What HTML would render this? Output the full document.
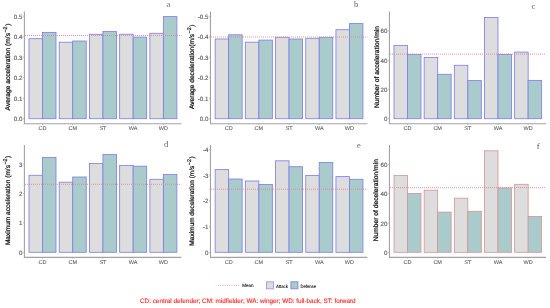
<!DOCTYPE html>
<html><head><meta charset="utf-8"><style>
html,body{margin:0;padding:0;background:#fff;}
body{width:550px;height:308px;overflow:hidden;}
svg{display:block;}
text{font-family:"Liberation Sans",Arial,sans-serif;text-rendering:geometricPrecision;}
.tk{font-size:6.2px;fill:#575757;stroke:#575757;stroke-width:0.12px;}
.tx{font-size:5.5px;fill:#555;stroke:#555;stroke-width:0.06px;}
.ti{font-size:6.85px;fill:#111;stroke:#111;stroke-width:0.24px;}
.sup{font-size:5.3px;}
.lt{font-family:"Liberation Serif","Times New Roman",serif;font-size:8.5px;fill:#5a5a5a;}
.lg{font-size:4.6px;fill:#1a1a1a;stroke:#1a1a1a;stroke-width:0.12px;}
.ls{font-family:"Liberation Sans",Arial,sans-serif;font-size:7.6px;fill:#666;}
.cap{font-size:6.4px;fill:#ff1f1f;stroke:#ff1f1f;stroke-width:0.12px;}
</style></head><body>
<svg width="550" height="308" viewBox="0 0 550 308">
<rect width="550" height="308" fill="#fff"/>
<rect x="29.00" y="38.70" width="13.50" height="80.00" fill="#dddddd" stroke="#8080ea" stroke-width="0.85"/>
<rect x="42.50" y="32.40" width="13.50" height="86.30" fill="#aacbcb" stroke="#8080ea" stroke-width="0.85"/>
<rect x="59.22" y="42.20" width="13.50" height="76.50" fill="#dddddd" stroke="#8080ea" stroke-width="0.85"/>
<rect x="72.72" y="41.00" width="13.50" height="77.70" fill="#aacbcb" stroke="#8080ea" stroke-width="0.85"/>
<rect x="89.44" y="34.30" width="13.50" height="84.40" fill="#dddddd" stroke="#8080ea" stroke-width="0.85"/>
<rect x="102.94" y="31.50" width="13.50" height="87.20" fill="#aacbcb" stroke="#8080ea" stroke-width="0.85"/>
<rect x="119.66" y="34.20" width="13.50" height="84.50" fill="#dddddd" stroke="#8080ea" stroke-width="0.85"/>
<rect x="133.16" y="37.10" width="13.50" height="81.60" fill="#aacbcb" stroke="#8080ea" stroke-width="0.85"/>
<rect x="149.88" y="33.30" width="13.50" height="85.40" fill="#dddddd" stroke="#8080ea" stroke-width="0.85"/>
<rect x="163.38" y="16.60" width="13.50" height="102.10" fill="#aacbcb" stroke="#8080ea" stroke-width="0.85"/>
<line x1="25.00" x2="181.30" y1="35.50" y2="35.50" stroke="#e08484" stroke-width="0.85" stroke-dasharray="1 1"/>
<path d="M24.40 11.40V123.80H181.30" fill="none" stroke="#a2a2a2" stroke-width="1.1"/>
<line x1="23.10" x2="24.40" y1="118.70" y2="118.70" stroke="#a2a2a2" stroke-width="0.7"/>
<text class="tk" x="22.40" y="121.20" text-anchor="end">0.0</text>
<line x1="23.10" x2="24.40" y1="98.20" y2="98.20" stroke="#a2a2a2" stroke-width="0.7"/>
<text class="tk" x="22.40" y="100.70" text-anchor="end">0.1</text>
<line x1="23.10" x2="24.40" y1="77.70" y2="77.70" stroke="#a2a2a2" stroke-width="0.7"/>
<text class="tk" x="22.40" y="80.20" text-anchor="end">0.2</text>
<line x1="23.10" x2="24.40" y1="57.20" y2="57.20" stroke="#a2a2a2" stroke-width="0.7"/>
<text class="tk" x="22.40" y="59.70" text-anchor="end">0.3</text>
<line x1="23.10" x2="24.40" y1="36.70" y2="36.70" stroke="#a2a2a2" stroke-width="0.7"/>
<text class="tk" x="22.40" y="39.20" text-anchor="end">0.4</text>
<line x1="23.10" x2="24.40" y1="16.20" y2="16.20" stroke="#a2a2a2" stroke-width="0.7"/>
<text class="tk" x="22.40" y="18.70" text-anchor="end">0.5</text>
<line x1="42.50" x2="42.50" y1="123.80" y2="125.10" stroke="#a2a2a2" stroke-width="0.7"/>
<text class="tx" x="42.50" y="130.10" text-anchor="middle">CD</text>
<line x1="72.72" x2="72.72" y1="123.80" y2="125.10" stroke="#a2a2a2" stroke-width="0.7"/>
<text class="tx" x="72.72" y="130.10" text-anchor="middle">CM</text>
<line x1="102.94" x2="102.94" y1="123.80" y2="125.10" stroke="#a2a2a2" stroke-width="0.7"/>
<text class="tx" x="102.94" y="130.10" text-anchor="middle">ST</text>
<line x1="133.16" x2="133.16" y1="123.80" y2="125.10" stroke="#a2a2a2" stroke-width="0.7"/>
<text class="tx" x="133.16" y="130.10" text-anchor="middle">WA</text>
<line x1="163.38" x2="163.38" y1="123.80" y2="125.10" stroke="#a2a2a2" stroke-width="0.7"/>
<text class="tx" x="163.38" y="130.10" text-anchor="middle">WD</text>
<text class="ti" style="font-size:6.68px" transform="translate(10.10 67.00) rotate(-90)" text-anchor="middle">Average acceleration (m/s<tspan class="sup" dx="0.5" dy="-3">−2</tspan><tspan dx="0.6" dy="3">)</tspan></text>
<text class="lt" x="166.60" y="7.30">a</text>
<rect x="215.15" y="39.00" width="13.50" height="79.70" fill="#dddddd" stroke="#8080ea" stroke-width="0.85"/>
<rect x="228.65" y="34.80" width="13.50" height="83.90" fill="#aacbcb" stroke="#8080ea" stroke-width="0.85"/>
<rect x="245.35" y="42.20" width="13.50" height="76.50" fill="#dddddd" stroke="#8080ea" stroke-width="0.85"/>
<rect x="258.85" y="40.10" width="13.50" height="78.60" fill="#aacbcb" stroke="#8080ea" stroke-width="0.85"/>
<rect x="275.55" y="37.30" width="13.50" height="81.40" fill="#dddddd" stroke="#8080ea" stroke-width="0.85"/>
<rect x="289.05" y="39.00" width="13.50" height="79.70" fill="#aacbcb" stroke="#8080ea" stroke-width="0.85"/>
<rect x="305.75" y="38.30" width="13.50" height="80.40" fill="#dddddd" stroke="#8080ea" stroke-width="0.85"/>
<rect x="319.25" y="37.30" width="13.50" height="81.40" fill="#aacbcb" stroke="#8080ea" stroke-width="0.85"/>
<rect x="335.95" y="29.70" width="13.50" height="89.00" fill="#dddddd" stroke="#8080ea" stroke-width="0.85"/>
<rect x="349.45" y="23.60" width="13.50" height="95.10" fill="#aacbcb" stroke="#8080ea" stroke-width="0.85"/>
<line x1="211.00" x2="367.40" y1="37.00" y2="37.00" stroke="#e08484" stroke-width="0.85" stroke-dasharray="1 1"/>
<path d="M210.45 11.40V123.80H367.40" fill="none" stroke="#a2a2a2" stroke-width="1.1"/>
<line x1="209.15" x2="210.45" y1="118.80" y2="118.80" stroke="#a2a2a2" stroke-width="0.7"/>
<text class="tk" x="208.45" y="121.30" text-anchor="end">0.0</text>
<line x1="209.15" x2="210.45" y1="98.30" y2="98.30" stroke="#a2a2a2" stroke-width="0.7"/>
<text class="tk" x="208.45" y="100.80" text-anchor="end">-0.1</text>
<line x1="209.15" x2="210.45" y1="77.80" y2="77.80" stroke="#a2a2a2" stroke-width="0.7"/>
<text class="tk" x="208.45" y="80.30" text-anchor="end">-0.2</text>
<line x1="209.15" x2="210.45" y1="57.30" y2="57.30" stroke="#a2a2a2" stroke-width="0.7"/>
<text class="tk" x="208.45" y="59.80" text-anchor="end">-0.3</text>
<line x1="209.15" x2="210.45" y1="36.90" y2="36.90" stroke="#a2a2a2" stroke-width="0.7"/>
<text class="tk" x="208.45" y="39.40" text-anchor="end">-0.4</text>
<line x1="209.15" x2="210.45" y1="16.40" y2="16.40" stroke="#a2a2a2" stroke-width="0.7"/>
<text class="tk" x="208.45" y="18.90" text-anchor="end">-0.5</text>
<line x1="228.65" x2="228.65" y1="123.80" y2="125.10" stroke="#a2a2a2" stroke-width="0.7"/>
<text class="tx" x="228.65" y="130.10" text-anchor="middle">CD</text>
<line x1="258.85" x2="258.85" y1="123.80" y2="125.10" stroke="#a2a2a2" stroke-width="0.7"/>
<text class="tx" x="258.85" y="130.10" text-anchor="middle">CM</text>
<line x1="289.05" x2="289.05" y1="123.80" y2="125.10" stroke="#a2a2a2" stroke-width="0.7"/>
<text class="tx" x="289.05" y="130.10" text-anchor="middle">ST</text>
<line x1="319.25" x2="319.25" y1="123.80" y2="125.10" stroke="#a2a2a2" stroke-width="0.7"/>
<text class="tx" x="319.25" y="130.10" text-anchor="middle">WA</text>
<line x1="349.45" x2="349.45" y1="123.80" y2="125.10" stroke="#a2a2a2" stroke-width="0.7"/>
<text class="tx" x="349.45" y="130.10" text-anchor="middle">WD</text>
<text class="ti" style="font-size:6.62px" transform="translate(194.10 66.80) rotate(-90)" text-anchor="middle">Average deceleration(m/s<tspan class="sup" dx="0.5" dy="-3">−2</tspan><tspan dx="0.6" dy="3">)</tspan></text>
<text class="lt" x="354.00" y="7.30">b</text>
<rect x="394.00" y="45.40" width="13.50" height="73.30" fill="#dddddd" stroke="#8080ea" stroke-width="0.85"/>
<rect x="407.50" y="54.40" width="13.50" height="64.30" fill="#aacbcb" stroke="#8080ea" stroke-width="0.85"/>
<rect x="424.16" y="57.50" width="13.50" height="61.20" fill="#dddddd" stroke="#8080ea" stroke-width="0.85"/>
<rect x="437.66" y="74.30" width="13.50" height="44.40" fill="#aacbcb" stroke="#8080ea" stroke-width="0.85"/>
<rect x="454.32" y="65.30" width="13.50" height="53.40" fill="#dddddd" stroke="#8080ea" stroke-width="0.85"/>
<rect x="467.82" y="80.60" width="13.50" height="38.10" fill="#aacbcb" stroke="#8080ea" stroke-width="0.85"/>
<rect x="484.48" y="17.50" width="13.50" height="101.20" fill="#dddddd" stroke="#8080ea" stroke-width="0.85"/>
<rect x="497.98" y="54.40" width="13.50" height="64.30" fill="#aacbcb" stroke="#8080ea" stroke-width="0.85"/>
<rect x="514.64" y="52.10" width="13.50" height="66.60" fill="#dddddd" stroke="#8080ea" stroke-width="0.85"/>
<rect x="528.14" y="80.40" width="13.50" height="38.30" fill="#aacbcb" stroke="#8080ea" stroke-width="0.85"/>
<line x1="390.00" x2="546.00" y1="54.10" y2="54.10" stroke="#e08484" stroke-width="0.85" stroke-dasharray="1 1"/>
<path d="M389.45 11.40V123.80H546.00" fill="none" stroke="#a2a2a2" stroke-width="1.1"/>
<line x1="388.15" x2="389.45" y1="118.70" y2="118.70" stroke="#a2a2a2" stroke-width="0.7"/>
<text class="tk" x="387.45" y="121.20" text-anchor="end">0</text>
<line x1="388.15" x2="389.45" y1="89.40" y2="89.40" stroke="#a2a2a2" stroke-width="0.7"/>
<text class="tk" x="387.45" y="91.90" text-anchor="end">20</text>
<line x1="388.15" x2="389.45" y1="60.10" y2="60.10" stroke="#a2a2a2" stroke-width="0.7"/>
<text class="tk" x="387.45" y="62.60" text-anchor="end">40</text>
<line x1="388.15" x2="389.45" y1="30.80" y2="30.80" stroke="#a2a2a2" stroke-width="0.7"/>
<text class="tk" x="387.45" y="33.30" text-anchor="end">60</text>
<line x1="407.50" x2="407.50" y1="123.80" y2="125.10" stroke="#a2a2a2" stroke-width="0.7"/>
<text class="tx" x="407.50" y="130.10" text-anchor="middle">CD</text>
<line x1="437.66" x2="437.66" y1="123.80" y2="125.10" stroke="#a2a2a2" stroke-width="0.7"/>
<text class="tx" x="437.66" y="130.10" text-anchor="middle">CM</text>
<line x1="467.82" x2="467.82" y1="123.80" y2="125.10" stroke="#a2a2a2" stroke-width="0.7"/>
<text class="tx" x="467.82" y="130.10" text-anchor="middle">ST</text>
<line x1="497.98" x2="497.98" y1="123.80" y2="125.10" stroke="#a2a2a2" stroke-width="0.7"/>
<text class="tx" x="497.98" y="130.10" text-anchor="middle">WA</text>
<line x1="528.14" x2="528.14" y1="123.80" y2="125.10" stroke="#a2a2a2" stroke-width="0.7"/>
<text class="tx" x="528.14" y="130.10" text-anchor="middle">WD</text>
<text class="ti" style="font-size:6.72px" transform="translate(378.70 67.00) rotate(-90)" text-anchor="middle">Number of acceleration/min</text>
<text class="lt" x="531.60" y="9.20">c</text>
<rect x="29.00" y="175.30" width="13.50" height="77.00" fill="#dddddd" stroke="#8080ea" stroke-width="0.85"/>
<rect x="42.50" y="157.40" width="13.50" height="94.90" fill="#aacbcb" stroke="#8080ea" stroke-width="0.85"/>
<rect x="59.22" y="182.20" width="13.50" height="70.10" fill="#dddddd" stroke="#8080ea" stroke-width="0.85"/>
<rect x="72.72" y="177.00" width="13.50" height="75.30" fill="#aacbcb" stroke="#8080ea" stroke-width="0.85"/>
<rect x="89.44" y="163.40" width="13.50" height="88.90" fill="#dddddd" stroke="#8080ea" stroke-width="0.85"/>
<rect x="102.94" y="154.40" width="13.50" height="97.90" fill="#aacbcb" stroke="#8080ea" stroke-width="0.85"/>
<rect x="119.66" y="165.40" width="13.50" height="86.90" fill="#dddddd" stroke="#8080ea" stroke-width="0.85"/>
<rect x="133.16" y="166.20" width="13.50" height="86.10" fill="#aacbcb" stroke="#8080ea" stroke-width="0.85"/>
<rect x="149.88" y="179.30" width="13.50" height="73.00" fill="#dddddd" stroke="#8080ea" stroke-width="0.85"/>
<rect x="163.38" y="174.40" width="13.50" height="77.90" fill="#aacbcb" stroke="#8080ea" stroke-width="0.85"/>
<line x1="25.00" x2="181.30" y1="184.30" y2="184.30" stroke="#e08484" stroke-width="0.85" stroke-dasharray="1 1"/>
<path d="M24.40 145.00V257.40H181.30" fill="none" stroke="#a2a2a2" stroke-width="1.1"/>
<line x1="23.10" x2="24.40" y1="252.30" y2="252.30" stroke="#a2a2a2" stroke-width="0.7"/>
<text class="tk" x="22.40" y="254.80" text-anchor="end">0</text>
<line x1="23.10" x2="24.40" y1="222.90" y2="222.90" stroke="#a2a2a2" stroke-width="0.7"/>
<text class="tk" x="22.40" y="225.40" text-anchor="end">1</text>
<line x1="23.10" x2="24.40" y1="193.50" y2="193.50" stroke="#a2a2a2" stroke-width="0.7"/>
<text class="tk" x="22.40" y="196.00" text-anchor="end">2</text>
<line x1="23.10" x2="24.40" y1="164.10" y2="164.10" stroke="#a2a2a2" stroke-width="0.7"/>
<text class="tk" x="22.40" y="166.60" text-anchor="end">3</text>
<line x1="42.50" x2="42.50" y1="257.40" y2="258.70" stroke="#a2a2a2" stroke-width="0.7"/>
<text class="tx" x="42.50" y="263.70" text-anchor="middle">CD</text>
<line x1="72.72" x2="72.72" y1="257.40" y2="258.70" stroke="#a2a2a2" stroke-width="0.7"/>
<text class="tx" x="72.72" y="263.70" text-anchor="middle">CM</text>
<line x1="102.94" x2="102.94" y1="257.40" y2="258.70" stroke="#a2a2a2" stroke-width="0.7"/>
<text class="tx" x="102.94" y="263.70" text-anchor="middle">ST</text>
<line x1="133.16" x2="133.16" y1="257.40" y2="258.70" stroke="#a2a2a2" stroke-width="0.7"/>
<text class="tx" x="133.16" y="263.70" text-anchor="middle">WA</text>
<line x1="163.38" x2="163.38" y1="257.40" y2="258.70" stroke="#a2a2a2" stroke-width="0.7"/>
<text class="tx" x="163.38" y="263.70" text-anchor="middle">WD</text>
<text class="ti" style="font-size:6.55px" transform="translate(10.10 200.40) rotate(-90)" text-anchor="middle">Maximum acceleration (m/s<tspan class="sup" dx="0.5" dy="-3">−2</tspan><tspan dx="0.6" dy="3">)</tspan></text>
<text class="lt" x="164.00" y="146.50">d</text>
<rect x="215.15" y="169.60" width="13.50" height="82.70" fill="#dddddd" stroke="#8080ea" stroke-width="0.85"/>
<rect x="228.65" y="179.00" width="13.50" height="73.30" fill="#aacbcb" stroke="#8080ea" stroke-width="0.85"/>
<rect x="245.35" y="181.00" width="13.50" height="71.30" fill="#dddddd" stroke="#8080ea" stroke-width="0.85"/>
<rect x="258.85" y="184.50" width="13.50" height="67.80" fill="#aacbcb" stroke="#8080ea" stroke-width="0.85"/>
<rect x="275.55" y="160.80" width="13.50" height="91.50" fill="#dddddd" stroke="#8080ea" stroke-width="0.85"/>
<rect x="289.05" y="166.70" width="13.50" height="85.60" fill="#aacbcb" stroke="#8080ea" stroke-width="0.85"/>
<rect x="305.75" y="175.40" width="13.50" height="76.90" fill="#dddddd" stroke="#8080ea" stroke-width="0.85"/>
<rect x="319.25" y="162.50" width="13.50" height="89.80" fill="#aacbcb" stroke="#8080ea" stroke-width="0.85"/>
<rect x="335.95" y="176.60" width="13.50" height="75.70" fill="#dddddd" stroke="#8080ea" stroke-width="0.85"/>
<rect x="349.45" y="179.30" width="13.50" height="73.00" fill="#aacbcb" stroke="#8080ea" stroke-width="0.85"/>
<line x1="211.00" x2="367.40" y1="189.20" y2="189.20" stroke="#e08484" stroke-width="0.85" stroke-dasharray="1 1"/>
<path d="M210.45 145.00V257.40H367.40" fill="none" stroke="#a2a2a2" stroke-width="1.1"/>
<line x1="209.15" x2="210.45" y1="252.30" y2="252.30" stroke="#a2a2a2" stroke-width="0.7"/>
<text class="tk" x="208.45" y="254.80" text-anchor="end">0</text>
<line x1="209.15" x2="210.45" y1="226.60" y2="226.60" stroke="#a2a2a2" stroke-width="0.7"/>
<text class="tk" x="208.45" y="229.10" text-anchor="end">-1</text>
<line x1="209.15" x2="210.45" y1="200.80" y2="200.80" stroke="#a2a2a2" stroke-width="0.7"/>
<text class="tk" x="208.45" y="203.30" text-anchor="end">-2</text>
<line x1="209.15" x2="210.45" y1="175.10" y2="175.10" stroke="#a2a2a2" stroke-width="0.7"/>
<text class="tk" x="208.45" y="177.60" text-anchor="end">-3</text>
<line x1="209.15" x2="210.45" y1="149.40" y2="149.40" stroke="#a2a2a2" stroke-width="0.7"/>
<text class="tk" x="208.45" y="151.90" text-anchor="end">-4</text>
<line x1="228.65" x2="228.65" y1="257.40" y2="258.70" stroke="#a2a2a2" stroke-width="0.7"/>
<text class="tx" x="228.65" y="263.70" text-anchor="middle">CD</text>
<line x1="258.85" x2="258.85" y1="257.40" y2="258.70" stroke="#a2a2a2" stroke-width="0.7"/>
<text class="tx" x="258.85" y="263.70" text-anchor="middle">CM</text>
<line x1="289.05" x2="289.05" y1="257.40" y2="258.70" stroke="#a2a2a2" stroke-width="0.7"/>
<text class="tx" x="289.05" y="263.70" text-anchor="middle">ST</text>
<line x1="319.25" x2="319.25" y1="257.40" y2="258.70" stroke="#a2a2a2" stroke-width="0.7"/>
<text class="tx" x="319.25" y="263.70" text-anchor="middle">WA</text>
<line x1="349.45" x2="349.45" y1="257.40" y2="258.70" stroke="#a2a2a2" stroke-width="0.7"/>
<text class="tx" x="349.45" y="263.70" text-anchor="middle">WD</text>
<text class="ti" style="font-size:6.52px" transform="translate(194.00 201.00) rotate(-90)" text-anchor="middle">Maximum deceleration (m/s<tspan class="sup" dx="0.5" dy="-3">−2</tspan><tspan dx="0.6" dy="3">)</tspan></text>
<text class="lt" x="357.00" y="148.30">e</text>
<rect x="394.00" y="175.50" width="13.50" height="76.80" fill="#dddddd" stroke="#d49494" stroke-width="0.8"/>
<rect x="407.50" y="193.40" width="13.50" height="58.90" fill="#aacbcb" stroke="#d49494" stroke-width="0.8"/>
<rect x="424.16" y="190.20" width="13.50" height="62.10" fill="#dddddd" stroke="#d49494" stroke-width="0.8"/>
<rect x="437.66" y="212.10" width="13.50" height="40.20" fill="#aacbcb" stroke="#d49494" stroke-width="0.8"/>
<rect x="454.32" y="198.20" width="13.50" height="54.10" fill="#dddddd" stroke="#d49494" stroke-width="0.8"/>
<rect x="467.82" y="211.30" width="13.50" height="41.00" fill="#aacbcb" stroke="#d49494" stroke-width="0.8"/>
<rect x="484.48" y="150.80" width="13.50" height="101.50" fill="#dddddd" stroke="#d49494" stroke-width="0.8"/>
<rect x="497.98" y="187.90" width="13.50" height="64.40" fill="#aacbcb" stroke="#d49494" stroke-width="0.8"/>
<rect x="514.64" y="184.30" width="13.50" height="68.00" fill="#dddddd" stroke="#d49494" stroke-width="0.8"/>
<rect x="528.14" y="216.50" width="13.50" height="35.80" fill="#aacbcb" stroke="#d49494" stroke-width="0.8"/>
<line x1="390.00" x2="546.00" y1="187.60" y2="187.60" stroke="#e08484" stroke-width="0.85" stroke-dasharray="1 1"/>
<path d="M389.45 145.00V257.40H546.00" fill="none" stroke="#a2a2a2" stroke-width="1.1"/>
<line x1="388.15" x2="389.45" y1="252.30" y2="252.30" stroke="#a2a2a2" stroke-width="0.7"/>
<text class="tk" x="387.45" y="254.80" text-anchor="end">0</text>
<line x1="388.15" x2="389.45" y1="223.00" y2="223.00" stroke="#a2a2a2" stroke-width="0.7"/>
<text class="tk" x="387.45" y="225.50" text-anchor="end">20</text>
<line x1="388.15" x2="389.45" y1="193.70" y2="193.70" stroke="#a2a2a2" stroke-width="0.7"/>
<text class="tk" x="387.45" y="196.20" text-anchor="end">40</text>
<line x1="388.15" x2="389.45" y1="164.40" y2="164.40" stroke="#a2a2a2" stroke-width="0.7"/>
<text class="tk" x="387.45" y="166.90" text-anchor="end">60</text>
<line x1="407.50" x2="407.50" y1="257.40" y2="258.70" stroke="#a2a2a2" stroke-width="0.7"/>
<text class="tx" x="407.50" y="263.70" text-anchor="middle">CD</text>
<line x1="437.66" x2="437.66" y1="257.40" y2="258.70" stroke="#a2a2a2" stroke-width="0.7"/>
<text class="tx" x="437.66" y="263.70" text-anchor="middle">CM</text>
<line x1="467.82" x2="467.82" y1="257.40" y2="258.70" stroke="#a2a2a2" stroke-width="0.7"/>
<text class="tx" x="467.82" y="263.70" text-anchor="middle">ST</text>
<line x1="497.98" x2="497.98" y1="257.40" y2="258.70" stroke="#a2a2a2" stroke-width="0.7"/>
<text class="tx" x="497.98" y="263.70" text-anchor="middle">WA</text>
<line x1="528.14" x2="528.14" y1="257.40" y2="258.70" stroke="#a2a2a2" stroke-width="0.7"/>
<text class="tx" x="528.14" y="263.70" text-anchor="middle">WD</text>
<text class="ti" style="font-size:6.7px" transform="translate(378.40 200.20) rotate(-90)" text-anchor="middle">Number of deceleration/min</text>
<text class="lt" x="536.80" y="148.90">f</text>
<line x1="217.9" x2="240.0" y1="285.3" y2="285.3" stroke="#e08484" stroke-width="0.8" stroke-dasharray="1 1.25"/>
<text class="lg" x="242.2" y="286.8" textLength="11.4" lengthAdjust="spacingAndGlyphs">Mean</text>
<rect x="266.5" y="281.8" width="7" height="7" fill="#dddddd" stroke="#9a9aee" stroke-width="0.9"/>
<text class="lg" x="275.9" y="287.5" textLength="11.9" lengthAdjust="spacingAndGlyphs">Attack</text>
<rect x="290.9" y="281.8" width="7" height="7" fill="#aacbcb" stroke="#8282e4" stroke-width="0.9"/>
<text class="lg" x="300.5" y="287.5" textLength="15.5" lengthAdjust="spacingAndGlyphs">Defense</text>
<text class="cap" x="140" y="303.3" textLength="215.6" lengthAdjust="spacingAndGlyphs">CD: central defender; CM: midfielder; WA: winger; WD: full-back, ST: forward</text>
</svg>
</body></html>
